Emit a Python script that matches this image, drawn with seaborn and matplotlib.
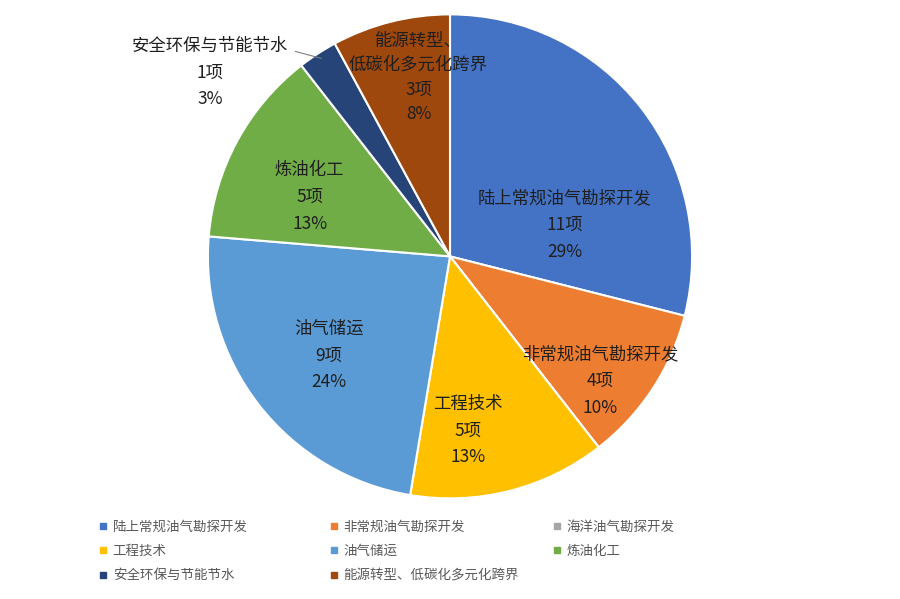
import matplotlib
matplotlib.use("Agg")
import matplotlib.pyplot as plt
from matplotlib.lines import Line2D
import seaborn as sns

# data
categories = ["陆上常规油气勘探开发", "非常规油气勘探开发", "海洋油气勘探开发", "工程技术",
              "油气储运", "炼油化工", "安全环保与节能节水", "能源转型、低碳化多元化跨界"]
counts = [11, 4, 0, 5, 9, 5, 1, 3]
pct_labels = ["29%", "10%", "", "13%", "24%", "13%", "3%", "8%"]
slice_names = ["陆上常规油气勘探开发", "非常规油气勘探开发", "", "工程技术",
               "油气储运", "炼油化工", "安全环保与节能节水", "能源转型、\n低碳化多元化跨界"]
colors = sns.color_palette(["#4472C4", "#ED7D31", "#A5A5A5", "#FFC000",
                            "#5B9BD5", "#70AD47", "#264478", "#9E480E"])

# label anchor points in pie units (radius = 1)
label_pos = [(0.475, 0.13), (0.62, -0.515), None, (0.075, -0.72),
             (-0.50, -0.41), (-0.58, 0.245), (-0.99, 0.76), (-0.13, 0.74)]

sns.set_theme(style="white")
plt.rcParams["font.family"] = ["Noto Sans CJK SC", "DejaVu Sans"]

fig = plt.figure(figsize=(9, 5.99), dpi=100)
ax = fig.add_axes([0.231, 0.168, 0.538, 0.808])

wedges, _ = ax.pie(counts, colors=colors, startangle=90, counterclock=False,
                   wedgeprops=dict(edgecolor="white", linewidth=1.5))
ax.set_xlim(-1, 1)
ax.set_ylim(-1, 1)
ax.set_aspect("auto")
ax.axis("off")

for i, pos in enumerate(label_pos):
    if pos is None:
        continue
    txt = f"{slice_names[i]}\n{counts[i]}项\n{pct_labels[i]}"
    ls = 1.45 if i == 7 else 1.62
    ax.text(pos[0], pos[1], txt, ha="center", va="center", fontsize=12.5,
            color="#1f1f1f", linespacing=ls)

# leader line for the small slice
ax.annotate("", xy=(-0.52, 0.815), xytext=(-0.65, 0.85),
            arrowprops=dict(arrowstyle="-", color="#7f7f7f", lw=0.8))

# legend: three columns placed like the original
col_groups = [[0, 3, 6], [1, 4, 7], [2, 5]]
col_x = [0.111, 0.367, 0.615]
for xs, grp in zip(col_x, col_groups):
    handles = [Line2D([], [], marker="s", linestyle="", markersize=4,
                      color=colors[k]) for k in grp]
    fig.legend(handles, [categories[k] for k in grp], loc="upper left",
               bbox_to_anchor=(xs, 0.132), borderaxespad=0, borderpad=0,
               frameon=False, fontsize=9.7, handlelength=0.5, handletextpad=0.45,
               labelspacing=0.76, labelcolor="#595959")

plt.savefig("out.png", dpi=100)
